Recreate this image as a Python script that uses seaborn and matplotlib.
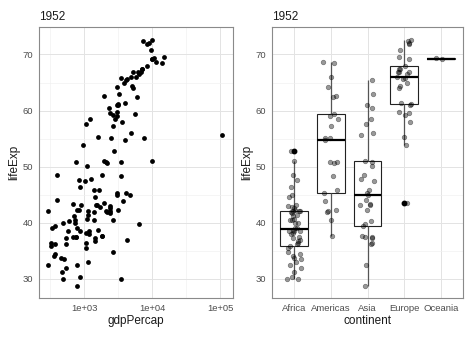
import numpy as np
import pandas as pd
import matplotlib
matplotlib.use("Agg")
import matplotlib.pyplot as plt
import seaborn as sns

# Gapminder, year 1952
continent = (["Africa"] * 52 + ["Americas"] * 25 + ["Asia"] * 33
             + ["Europe"] * 30 + ["Oceania"] * 2)

life_exp = [
    # Africa
    43.077, 30.015, 38.223, 47.622, 31.975, 39.031, 38.523, 35.463, 38.092, 40.715,
    39.143, 42.111, 40.477, 34.812, 41.893, 34.482, 35.928, 34.078, 37.003, 30.000,
    43.149, 33.609, 32.500, 42.270, 42.138, 38.480, 42.723, 36.681, 36.256, 33.685,
    40.543, 50.986, 42.873, 31.286, 41.725, 37.444, 36.324, 52.724, 40.000, 46.471,
    37.278, 30.331, 32.978, 45.009, 38.635, 41.407, 41.215, 38.596, 44.600, 39.978,
    42.038, 48.451,
    # Americas
    62.485, 40.414, 50.917, 68.750, 54.745, 50.643, 57.206, 59.421, 45.928, 48.357,
    45.262, 42.023, 37.579, 41.912, 58.530, 50.789, 42.314, 55.191, 62.649, 43.902,
    64.280, 59.100, 68.440, 66.071, 55.088,
    # Asia
    28.801, 50.939, 37.484, 39.417, 44.000, 60.960, 37.373, 37.468, 44.869, 45.320,
    65.390, 63.030, 43.158, 50.056, 47.453, 55.565, 55.928, 48.463, 42.244, 36.319,
    36.157, 37.578, 43.436, 47.752, 39.875, 60.396, 57.593, 45.883, 58.500, 50.848,
    40.412, 43.160, 32.548,
    # Europe
    55.230, 66.800, 68.000, 53.820, 59.600, 61.210, 66.870, 70.780, 66.550, 67.410,
    67.500, 65.860, 64.030, 72.490, 66.910, 65.940, 59.164, 72.130, 72.670, 61.310,
    59.820, 61.050, 57.996, 64.360, 65.570, 64.940, 71.860, 69.620, 43.585, 69.180,
    # Oceania
    69.120, 69.390,
]

gdp_percap = [
    # Africa
    2449.008, 3520.610, 1062.752, 851.241, 543.255, 339.296, 1172.668, 1071.311, 1178.666, 1102.991,
    780.542, 2125.622, 1388.595, 2669.530, 1418.822, 375.643, 328.941, 362.147, 4293.476, 485.231,
    911.299, 510.196, 299.850, 853.541, 298.846, 575.572, 2387.548, 1443.012, 369.165, 452.336,
    743.116, 1967.956, 1688.204, 468.526, 2423.780, 761.879, 1077.282, 2718.885, 493.324, 879.584,
    1450.357, 879.788, 1135.750, 4725.296, 1615.991, 1148.377, 716.650, 859.809, 1468.476, 734.753,
    1147.389, 406.884,
    # Americas
    5911.315, 2677.326, 2108.944, 11367.161, 3939.979, 2144.115, 2627.009, 5586.539, 1397.717, 3522.111,
    3048.303, 2428.238, 1840.367, 2194.926, 2898.531, 3478.126, 3112.364, 2480.380, 1952.308, 3758.523,
    3081.960, 3023.272, 13990.482, 5716.767, 7689.800,
    # Asia
    779.445, 9867.085, 684.244, 368.469, 400.449, 3054.421, 546.566, 749.682, 3035.326, 4129.766,
    4086.522, 3216.956, 1546.908, 1088.278, 1030.592, 108382.353, 4834.804, 1831.133, 786.567, 331.000,
    545.866, 1828.230, 684.597, 1272.880, 6459.555, 2315.138, 1083.532, 1643.485, 1206.948, 757.797,
    605.067, 1515.592, 781.718,
    # Europe
    1601.056, 6137.076, 8343.105, 973.533, 2444.287, 3119.237, 6876.140, 9692.385, 6424.519, 7029.809,
    7144.114, 3530.690, 5263.674, 7267.688, 5210.280, 4931.404, 2647.586, 8941.572, 10095.422, 4029.330,
    3068.320, 3144.613, 3581.459, 5074.659, 4215.042, 3834.035, 8527.845, 14734.233, 1969.101, 9979.508,
    # Oceania
    10039.596, 10556.576,
]

continent_order = ["Africa", "Americas", "Asia", "Europe", "Oceania"]
x_ticks = [1e3, 1e4, 1e5]
x_tick_labels = ["1e+03", "1e+04", "1e+05"]
y_ticks = [30, 40, 50, 60, 70]
panel_title = "1952"

df = pd.DataFrame({"continent": continent, "lifeExp": life_exp, "gdpPercap": gdp_percap})

sns.set_theme(style="white")
plt.rcParams["font.family"] = ["Liberation Sans", "DejaVu Sans"]

fig = plt.figure(figsize=(4.74, 3.38), dpi=100)
W, H = 474, 338
ax1 = fig.add_axes([39 / W, 1 - 298 / H, 194 / W, 271 / H])
ax2 = fig.add_axes([272 / W, 1 - 298 / H, 191 / W, 271 / H])

major_grid = "#e3e3e3"
minor_grid = "#f0f0f0"
border = "#8a8a8a"
tick_col = "#4d4d4d"


def style_axes(ax):
    ax.set_facecolor("white")
    for s in ax.spines.values():
        s.set_color(border)
        s.set_linewidth(0.8)
    ax.tick_params(axis="both", which="major", length=2.5, width=0.6, color=tick_col,
                   labelsize=6.8, labelcolor=tick_col, pad=1.5)
    ax.tick_params(axis="both", which="minor", length=0)
    ax.grid(True, which="major", color=major_grid, linewidth=0.7)
    ax.grid(True, which="minor", color=minor_grid, linewidth=0.45)
    ax.set_axisbelow(True)
    ax.set_ylim(26.6, 74.9)
    ax.set_yticks(y_ticks)
    ax.set_yticks([35, 45, 55, 65], minor=True)
    ax.set_yticklabels([str(t) for t in y_ticks])
    ax.set_title(panel_title, loc="left", fontsize=8.5, pad=5, color="#1a1a1a")


# Left: life expectancy against GDP per capita (log scale)
sns.scatterplot(data=df, x="gdpPercap", y="lifeExp", color="black", s=12,
                linewidth=0, ax=ax1)
ax1.set_xscale("log")
ax1.set_xlim(10 ** 2.338, 10 ** 5.19)
ax1.set_xticks(x_ticks)
ax1.set_xticklabels(x_tick_labels)
ax1.set_xticks([10 ** 2.5, 10 ** 3.5, 10 ** 4.5], minor=True)
ax1.xaxis.set_minor_formatter(matplotlib.ticker.NullFormatter())
style_axes(ax1)
ax1.set_xlabel("gdpPercap", fontsize=8.5, labelpad=1.5, color="#1a1a1a")
ax1.set_ylabel("lifeExp", fontsize=8.5, labelpad=2, color="#1a1a1a")

# Right: life expectancy by continent
sns.boxplot(data=df, x="continent", y="lifeExp", order=continent_order, width=0.75,
            color="white", linecolor="#222222", linewidth=0.8, whis=1.5,
            fliersize=3.2,
            flierprops=dict(marker="o", markerfacecolor="black", markeredgecolor="black"),
            whiskerprops=dict(color="#555555", linewidth=0.9),
            capprops=dict(linewidth=0),
            medianprops=dict(color="black", linewidth=1.6),
            ax=ax2)
np.random.seed(7)
sns.stripplot(data=df, x="continent", y="lifeExp", order=continent_order, jitter=0.2,
              color="black", alpha=0.4, size=3.3, linewidth=0.5, edgecolor="black",
              ax=ax2)
ax2.set_xlim(0.4 - 1, 5.6 - 1)
style_axes(ax2)
ax2.grid(False, which="minor", axis="x")
ax2.set_xlabel("continent", fontsize=8.5, labelpad=1.5, color="#1a1a1a")
ax2.set_ylabel("lifeExp", fontsize=8.5, labelpad=2, color="#1a1a1a")

fig.savefig("out.png", dpi=100, facecolor="white")
